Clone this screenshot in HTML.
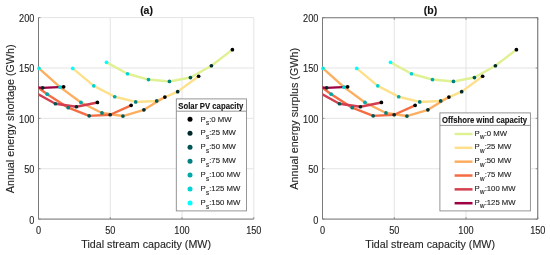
<!DOCTYPE html>
<html><head><meta charset="utf-8"><style>
html,body{margin:0;padding:0;background:#fff;}
svg{display:block;will-change:transform;font-family:"Liberation Sans",sans-serif;}
text{stroke:#262626;stroke-width:0.12px;}
</style></head><body>
<svg width="550" height="255" viewBox="0 0 550 255">
<defs><clipPath id="clip"><rect x="38.5" y="17.6" width="215.3" height="201.5"/></clipPath></defs>
<rect width="550" height="255" fill="#fff"/>
<g transform="translate(0,0)">
<line x1="38.5" x2="253.8" y1="219.10" y2="219.10" stroke="#e4e4e4" stroke-width="1"/>
<line x1="38.5" x2="253.8" y1="168.72" y2="168.72" stroke="#e4e4e4" stroke-width="1"/>
<line x1="38.5" x2="253.8" y1="118.35" y2="118.35" stroke="#e4e4e4" stroke-width="1"/>
<line x1="38.5" x2="253.8" y1="67.97" y2="67.97" stroke="#e4e4e4" stroke-width="1"/>
<line x1="38.5" x2="253.8" y1="17.60" y2="17.60" stroke="#e4e4e4" stroke-width="1"/>
<line x1="38.50" x2="38.50" y1="17.6" y2="219.1" stroke="#e4e4e4" stroke-width="1"/>
<line x1="110.27" x2="110.27" y1="17.6" y2="219.1" stroke="#e4e4e4" stroke-width="1"/>
<line x1="182.03" x2="182.03" y1="17.6" y2="219.1" stroke="#e4e4e4" stroke-width="1"/>
<line x1="253.80" x2="253.80" y1="17.6" y2="219.1" stroke="#e4e4e4" stroke-width="1"/>
<path d="M38.5 17.6 V219.1 H253.8" fill="none" stroke="#7a7a7a" stroke-width="1"/>
<g clip-path="url(#clip)">
<polyline points="106.52,62.35 127.50,73.75 148.48,79.55 169.46,81.45 190.44,77.55 211.42,65.75 232.40,49.65" fill="none" stroke="#dff192" stroke-width="2.4" stroke-linejoin="round"/>
<polyline points="72.77,68.45 93.75,85.85 114.73,96.75 135.71,101.95 156.69,100.95 177.67,91.65 198.65,76.25" fill="none" stroke="#fee08b" stroke-width="2.4" stroke-linejoin="round"/>
<polyline points="39.02,68.45 60.00,87.15 80.98,102.45 101.96,112.95 122.94,116.05 143.92,109.85 164.90,97.05" fill="none" stroke="#fdae61" stroke-width="2.4" stroke-linejoin="round"/>
<polyline points="26.25,79.15 47.23,94.15 68.21,107.65 89.19,115.85 110.17,114.75 131.15,105.35" fill="none" stroke="#f46d43" stroke-width="2.4" stroke-linejoin="round"/>
<polyline points="34.46,92.25 55.44,103.75 76.42,106.75 97.40,102.45" fill="none" stroke="#d53e4f" stroke-width="2.4" stroke-linejoin="round"/>
<polyline points="21.69,86.25 42.67,87.85 63.65,86.85" fill="none" stroke="#9e0142" stroke-width="2.4" stroke-linejoin="round"/>
</g>
<circle cx="106.52" cy="62.35" r="1.85" fill="#00ffff"/>
<circle cx="127.50" cy="73.75" r="1.85" fill="#00d4d4"/>
<circle cx="148.48" cy="79.55" r="1.85" fill="#00aaaa"/>
<circle cx="169.46" cy="81.45" r="1.85" fill="#008080"/>
<circle cx="190.44" cy="77.55" r="1.85" fill="#005555"/>
<circle cx="211.42" cy="65.75" r="1.85" fill="#002a2a"/>
<circle cx="232.40" cy="49.65" r="1.85" fill="#000000"/>
<circle cx="72.77" cy="68.45" r="1.85" fill="#00ffff"/>
<circle cx="93.75" cy="85.85" r="1.85" fill="#00d4d4"/>
<circle cx="114.73" cy="96.75" r="1.85" fill="#00aaaa"/>
<circle cx="135.71" cy="101.95" r="1.85" fill="#008080"/>
<circle cx="156.69" cy="100.95" r="1.85" fill="#005555"/>
<circle cx="177.67" cy="91.65" r="1.85" fill="#002a2a"/>
<circle cx="198.65" cy="76.25" r="1.85" fill="#000000"/>
<circle cx="39.02" cy="68.45" r="1.85" fill="#00ffff"/>
<circle cx="60.00" cy="87.15" r="1.85" fill="#00d4d4"/>
<circle cx="80.98" cy="102.45" r="1.85" fill="#00aaaa"/>
<circle cx="101.96" cy="112.95" r="1.85" fill="#008080"/>
<circle cx="122.94" cy="116.05" r="1.85" fill="#005555"/>
<circle cx="143.92" cy="109.85" r="1.85" fill="#002a2a"/>
<circle cx="164.90" cy="97.05" r="1.85" fill="#000000"/>
<circle cx="47.23" cy="94.15" r="1.85" fill="#00aaaa"/>
<circle cx="68.21" cy="107.65" r="1.85" fill="#008080"/>
<circle cx="89.19" cy="115.85" r="1.85" fill="#005555"/>
<circle cx="110.17" cy="114.75" r="1.85" fill="#002a2a"/>
<circle cx="131.15" cy="105.35" r="1.85" fill="#000000"/>
<circle cx="55.44" cy="103.75" r="1.85" fill="#005555"/>
<circle cx="76.42" cy="106.75" r="1.85" fill="#002a2a"/>
<circle cx="97.40" cy="102.45" r="1.85" fill="#000000"/>
<circle cx="42.67" cy="87.85" r="1.85" fill="#002a2a"/>
<circle cx="63.65" cy="86.85" r="1.85" fill="#000000"/>
<line x1="38.5" x2="40.5" y1="219.10" y2="219.10" stroke="#7a7a7a" stroke-width="0.8"/>
<line x1="38.5" x2="40.5" y1="168.72" y2="168.72" stroke="#7a7a7a" stroke-width="0.8"/>
<line x1="38.5" x2="40.5" y1="118.35" y2="118.35" stroke="#7a7a7a" stroke-width="0.8"/>
<line x1="38.5" x2="40.5" y1="67.97" y2="67.97" stroke="#7a7a7a" stroke-width="0.8"/>
<line x1="38.5" x2="40.5" y1="17.60" y2="17.60" stroke="#7a7a7a" stroke-width="0.8"/>
<line x1="38.50" x2="38.50" y1="219.1" y2="217.1" stroke="#7a7a7a" stroke-width="0.8"/>
<line x1="110.27" x2="110.27" y1="219.1" y2="217.1" stroke="#7a7a7a" stroke-width="0.8"/>
<line x1="182.03" x2="182.03" y1="219.1" y2="217.1" stroke="#7a7a7a" stroke-width="0.8"/>
<line x1="253.80" x2="253.80" y1="219.1" y2="217.1" stroke="#7a7a7a" stroke-width="0.8"/>
<text transform="translate(34.40,223.50) scale(1,1.12)" text-anchor="end" font-size="9.2" fill="#262626">0</text>
<text transform="translate(34.40,173.12) scale(1,1.12)" text-anchor="end" font-size="9.2" fill="#262626">50</text>
<text transform="translate(34.40,122.75) scale(1,1.12)" text-anchor="end" font-size="9.2" fill="#262626">100</text>
<text transform="translate(34.40,72.38) scale(1,1.12)" text-anchor="end" font-size="9.2" fill="#262626">150</text>
<text transform="translate(34.40,22.00) scale(1,1.12)" text-anchor="end" font-size="9.2" fill="#262626">200</text>
<text transform="translate(38.50,233.90) scale(1,1.12)" text-anchor="middle" font-size="9.2" fill="#262626">0</text>
<text transform="translate(110.27,233.90) scale(1,1.12)" text-anchor="middle" font-size="9.2" fill="#262626">50</text>
<text transform="translate(182.03,233.90) scale(1,1.12)" text-anchor="middle" font-size="9.2" fill="#262626">100</text>
<text transform="translate(253.80,233.90) scale(1,1.12)" text-anchor="middle" font-size="9.2" fill="#262626">150</text>
<text x="146.15" y="247.8" text-anchor="middle" font-size="10.7" fill="#262626">Tidal stream capacity (MW)</text>
<text transform="translate(13.9,118.85) rotate(-90)" text-anchor="middle" font-size="10.75" fill="#262626">Annual energy shortage (GWh)</text>
<text x="146.55" y="14" text-anchor="middle" font-size="10.5" font-weight="bold" fill="#111">(a)</text>
<rect x="176.3" y="98.9" width="70.19999999999999" height="112.0" fill="#fff" stroke="#8a8a8a" stroke-width="0.9"/>
<line x1="176.3" x2="246.5" y1="111.2" y2="111.2" stroke="#8a8a8a" stroke-width="0.9"/>
<text transform="translate(210.80,108.7) scale(1,1.12)" text-anchor="middle" font-size="7.75" font-weight="bold" fill="#111">Solar PV capacity</text>
<circle cx="190.0" cy="119.30" r="2.5" fill="#000000"/>
<text x="200.5" y="121.50" font-size="7.75" fill="#222">P<tspan dx="0.4" dy="3.5" font-size="6.3">s</tspan><tspan dy="-3.5">:0 MW</tspan></text>
<circle cx="190.0" cy="133.25" r="2.5" fill="#002a2a"/>
<text x="200.5" y="135.45" font-size="7.75" fill="#222">P<tspan dx="0.4" dy="3.5" font-size="6.3">s</tspan><tspan dy="-3.5">:25 MW</tspan></text>
<circle cx="190.0" cy="147.20" r="2.5" fill="#005555"/>
<text x="200.5" y="149.40" font-size="7.75" fill="#222">P<tspan dx="0.4" dy="3.5" font-size="6.3">s</tspan><tspan dy="-3.5">:50 MW</tspan></text>
<circle cx="190.0" cy="161.15" r="2.5" fill="#008080"/>
<text x="200.5" y="163.35" font-size="7.75" fill="#222">P<tspan dx="0.4" dy="3.5" font-size="6.3">s</tspan><tspan dy="-3.5">:75 MW</tspan></text>
<circle cx="190.0" cy="175.10" r="2.5" fill="#00aaaa"/>
<text x="200.5" y="177.30" font-size="7.75" fill="#222">P<tspan dx="0.4" dy="3.5" font-size="6.3">s</tspan><tspan dy="-3.5">:100 MW</tspan></text>
<circle cx="190.0" cy="189.05" r="2.5" fill="#00d4d4"/>
<text x="200.5" y="191.25" font-size="7.75" fill="#222">P<tspan dx="0.4" dy="3.5" font-size="6.3">s</tspan><tspan dy="-3.5">:125 MW</tspan></text>
<circle cx="190.0" cy="203.00" r="2.5" fill="#00ffff"/>
<text x="200.5" y="205.20" font-size="7.75" fill="#222">P<tspan dx="0.4" dy="3.5" font-size="6.3">s</tspan><tspan dy="-3.5">:150 MW</tspan></text>
</g>
<g transform="translate(284,0)">
<line x1="38.5" x2="253.8" y1="219.10" y2="219.10" stroke="#e4e4e4" stroke-width="1"/>
<line x1="38.5" x2="253.8" y1="168.72" y2="168.72" stroke="#e4e4e4" stroke-width="1"/>
<line x1="38.5" x2="253.8" y1="118.35" y2="118.35" stroke="#e4e4e4" stroke-width="1"/>
<line x1="38.5" x2="253.8" y1="67.97" y2="67.97" stroke="#e4e4e4" stroke-width="1"/>
<line x1="38.5" x2="253.8" y1="17.60" y2="17.60" stroke="#e4e4e4" stroke-width="1"/>
<line x1="38.50" x2="38.50" y1="17.6" y2="219.1" stroke="#e4e4e4" stroke-width="1"/>
<line x1="110.27" x2="110.27" y1="17.6" y2="219.1" stroke="#e4e4e4" stroke-width="1"/>
<line x1="182.03" x2="182.03" y1="17.6" y2="219.1" stroke="#e4e4e4" stroke-width="1"/>
<line x1="253.80" x2="253.80" y1="17.6" y2="219.1" stroke="#e4e4e4" stroke-width="1"/>
<path d="M38.5 17.6 V219.1 H253.8" fill="none" stroke="#7a7a7a" stroke-width="1"/>
<path d="M38.5 17.8 H253.70000000000002 V219.1" fill="none" stroke="#7a7a7a" stroke-width="1.1"/>
<line x1="251.70000000000002" x2="253.70000000000002" y1="219.10" y2="219.10" stroke="#7a7a7a" stroke-width="0.8"/>
<line x1="251.70000000000002" x2="253.70000000000002" y1="168.72" y2="168.72" stroke="#7a7a7a" stroke-width="0.8"/>
<line x1="251.70000000000002" x2="253.70000000000002" y1="118.35" y2="118.35" stroke="#7a7a7a" stroke-width="0.8"/>
<line x1="251.70000000000002" x2="253.70000000000002" y1="67.97" y2="67.97" stroke="#7a7a7a" stroke-width="0.8"/>
<line x1="251.70000000000002" x2="253.70000000000002" y1="17.60" y2="17.60" stroke="#7a7a7a" stroke-width="0.8"/>
<line x1="38.50" x2="38.50" y1="17.8" y2="19.8" stroke="#7a7a7a" stroke-width="0.8"/>
<line x1="110.27" x2="110.27" y1="17.8" y2="19.8" stroke="#7a7a7a" stroke-width="0.8"/>
<line x1="182.03" x2="182.03" y1="17.8" y2="19.8" stroke="#7a7a7a" stroke-width="0.8"/>
<line x1="253.80" x2="253.80" y1="17.8" y2="19.8" stroke="#7a7a7a" stroke-width="0.8"/>
<g clip-path="url(#clip)">
<polyline points="106.52,62.35 127.50,73.75 148.48,79.55 169.46,81.45 190.44,77.55 211.42,65.75 232.40,49.65" fill="none" stroke="#dff192" stroke-width="2.4" stroke-linejoin="round"/>
<polyline points="72.77,68.45 93.75,85.85 114.73,96.75 135.71,101.95 156.69,100.95 177.67,91.65 198.65,76.25" fill="none" stroke="#fee08b" stroke-width="2.4" stroke-linejoin="round"/>
<polyline points="39.02,68.45 60.00,87.15 80.98,102.45 101.96,112.95 122.94,116.05 143.92,109.85 164.90,97.05" fill="none" stroke="#fdae61" stroke-width="2.4" stroke-linejoin="round"/>
<polyline points="26.25,79.15 47.23,94.15 68.21,107.65 89.19,115.85 110.17,114.75 131.15,105.35" fill="none" stroke="#f46d43" stroke-width="2.4" stroke-linejoin="round"/>
<polyline points="34.46,92.25 55.44,103.75 76.42,106.75 97.40,102.45" fill="none" stroke="#d53e4f" stroke-width="2.4" stroke-linejoin="round"/>
<polyline points="21.69,86.25 42.67,87.85 63.65,86.85" fill="none" stroke="#9e0142" stroke-width="2.4" stroke-linejoin="round"/>
</g>
<circle cx="106.52" cy="62.35" r="1.85" fill="#00ffff"/>
<circle cx="127.50" cy="73.75" r="1.85" fill="#00d4d4"/>
<circle cx="148.48" cy="79.55" r="1.85" fill="#00aaaa"/>
<circle cx="169.46" cy="81.45" r="1.85" fill="#008080"/>
<circle cx="190.44" cy="77.55" r="1.85" fill="#005555"/>
<circle cx="211.42" cy="65.75" r="1.85" fill="#002a2a"/>
<circle cx="232.40" cy="49.65" r="1.85" fill="#000000"/>
<circle cx="72.77" cy="68.45" r="1.85" fill="#00ffff"/>
<circle cx="93.75" cy="85.85" r="1.85" fill="#00d4d4"/>
<circle cx="114.73" cy="96.75" r="1.85" fill="#00aaaa"/>
<circle cx="135.71" cy="101.95" r="1.85" fill="#008080"/>
<circle cx="156.69" cy="100.95" r="1.85" fill="#005555"/>
<circle cx="177.67" cy="91.65" r="1.85" fill="#002a2a"/>
<circle cx="198.65" cy="76.25" r="1.85" fill="#000000"/>
<circle cx="39.02" cy="68.45" r="1.85" fill="#00ffff"/>
<circle cx="60.00" cy="87.15" r="1.85" fill="#00d4d4"/>
<circle cx="80.98" cy="102.45" r="1.85" fill="#00aaaa"/>
<circle cx="101.96" cy="112.95" r="1.85" fill="#008080"/>
<circle cx="122.94" cy="116.05" r="1.85" fill="#005555"/>
<circle cx="143.92" cy="109.85" r="1.85" fill="#002a2a"/>
<circle cx="164.90" cy="97.05" r="1.85" fill="#000000"/>
<circle cx="47.23" cy="94.15" r="1.85" fill="#00aaaa"/>
<circle cx="68.21" cy="107.65" r="1.85" fill="#008080"/>
<circle cx="89.19" cy="115.85" r="1.85" fill="#005555"/>
<circle cx="110.17" cy="114.75" r="1.85" fill="#002a2a"/>
<circle cx="131.15" cy="105.35" r="1.85" fill="#000000"/>
<circle cx="55.44" cy="103.75" r="1.85" fill="#005555"/>
<circle cx="76.42" cy="106.75" r="1.85" fill="#002a2a"/>
<circle cx="97.40" cy="102.45" r="1.85" fill="#000000"/>
<circle cx="42.67" cy="87.85" r="1.85" fill="#002a2a"/>
<circle cx="63.65" cy="86.85" r="1.85" fill="#000000"/>
<line x1="38.5" x2="40.5" y1="219.10" y2="219.10" stroke="#7a7a7a" stroke-width="0.8"/>
<line x1="38.5" x2="40.5" y1="168.72" y2="168.72" stroke="#7a7a7a" stroke-width="0.8"/>
<line x1="38.5" x2="40.5" y1="118.35" y2="118.35" stroke="#7a7a7a" stroke-width="0.8"/>
<line x1="38.5" x2="40.5" y1="67.97" y2="67.97" stroke="#7a7a7a" stroke-width="0.8"/>
<line x1="38.5" x2="40.5" y1="17.60" y2="17.60" stroke="#7a7a7a" stroke-width="0.8"/>
<line x1="38.50" x2="38.50" y1="219.1" y2="217.1" stroke="#7a7a7a" stroke-width="0.8"/>
<line x1="110.27" x2="110.27" y1="219.1" y2="217.1" stroke="#7a7a7a" stroke-width="0.8"/>
<line x1="182.03" x2="182.03" y1="219.1" y2="217.1" stroke="#7a7a7a" stroke-width="0.8"/>
<line x1="253.80" x2="253.80" y1="219.1" y2="217.1" stroke="#7a7a7a" stroke-width="0.8"/>
<text transform="translate(34.40,223.50) scale(1,1.12)" text-anchor="end" font-size="9.2" fill="#262626">0</text>
<text transform="translate(34.40,173.12) scale(1,1.12)" text-anchor="end" font-size="9.2" fill="#262626">50</text>
<text transform="translate(34.40,122.75) scale(1,1.12)" text-anchor="end" font-size="9.2" fill="#262626">100</text>
<text transform="translate(34.40,72.38) scale(1,1.12)" text-anchor="end" font-size="9.2" fill="#262626">150</text>
<text transform="translate(34.40,22.00) scale(1,1.12)" text-anchor="end" font-size="9.2" fill="#262626">200</text>
<text transform="translate(38.50,233.90) scale(1,1.12)" text-anchor="middle" font-size="9.2" fill="#262626">0</text>
<text transform="translate(110.27,233.90) scale(1,1.12)" text-anchor="middle" font-size="9.2" fill="#262626">50</text>
<text transform="translate(182.03,233.90) scale(1,1.12)" text-anchor="middle" font-size="9.2" fill="#262626">100</text>
<text transform="translate(253.80,233.90) scale(1,1.12)" text-anchor="middle" font-size="9.2" fill="#262626">150</text>
<text x="146.15" y="247.8" text-anchor="middle" font-size="10.7" fill="#262626">Tidal stream capacity (MW)</text>
<text transform="translate(13.9,118.85) rotate(-90)" text-anchor="middle" font-size="10.75" fill="#262626">Annual energy surplus (GWh)</text>
<text x="146.55" y="14" text-anchor="middle" font-size="10.5" font-weight="bold" fill="#111">(b)</text>
<rect x="155.89999999999998" y="112.9" width="90.5" height="98.0" fill="#fff" stroke="#8a8a8a" stroke-width="0.9"/>
<line x1="155.89999999999998" x2="246.39999999999998" y1="125.4" y2="125.4" stroke="#8a8a8a" stroke-width="0.9"/>
<text transform="translate(200.55,122.7) scale(1,1.12)" text-anchor="middle" font-size="7.75" font-weight="bold" fill="#111">Offshore wind capacity</text>
<line x1="170.60000000000002" x2="188.5" y1="134.00" y2="134.00" stroke="#dff192" stroke-width="2.5"/>
<text x="190.5" y="135.50" font-size="7.75" fill="#222">P<tspan dx="0.4" dy="3.5" font-size="6.3">w</tspan><tspan dy="-3.5">:0 MW</tspan></text>
<line x1="170.60000000000002" x2="188.5" y1="147.84" y2="147.84" stroke="#fee08b" stroke-width="2.5"/>
<text x="190.5" y="149.34" font-size="7.75" fill="#222">P<tspan dx="0.4" dy="3.5" font-size="6.3">w</tspan><tspan dy="-3.5">:25 MW</tspan></text>
<line x1="170.60000000000002" x2="188.5" y1="161.68" y2="161.68" stroke="#fdae61" stroke-width="2.5"/>
<text x="190.5" y="163.18" font-size="7.75" fill="#222">P<tspan dx="0.4" dy="3.5" font-size="6.3">w</tspan><tspan dy="-3.5">:50 MW</tspan></text>
<line x1="170.60000000000002" x2="188.5" y1="175.52" y2="175.52" stroke="#f46d43" stroke-width="2.5"/>
<text x="190.5" y="177.02" font-size="7.75" fill="#222">P<tspan dx="0.4" dy="3.5" font-size="6.3">w</tspan><tspan dy="-3.5">:75 MW</tspan></text>
<line x1="170.60000000000002" x2="188.5" y1="189.36" y2="189.36" stroke="#d53e4f" stroke-width="2.5"/>
<text x="190.5" y="190.86" font-size="7.75" fill="#222">P<tspan dx="0.4" dy="3.5" font-size="6.3">w</tspan><tspan dy="-3.5">:100 MW</tspan></text>
<line x1="170.60000000000002" x2="188.5" y1="203.20" y2="203.20" stroke="#9e0142" stroke-width="2.5"/>
<text x="190.5" y="204.70" font-size="7.75" fill="#222">P<tspan dx="0.4" dy="3.5" font-size="6.3">w</tspan><tspan dy="-3.5">:125 MW</tspan></text>
</g>
</svg>
</body></html>
